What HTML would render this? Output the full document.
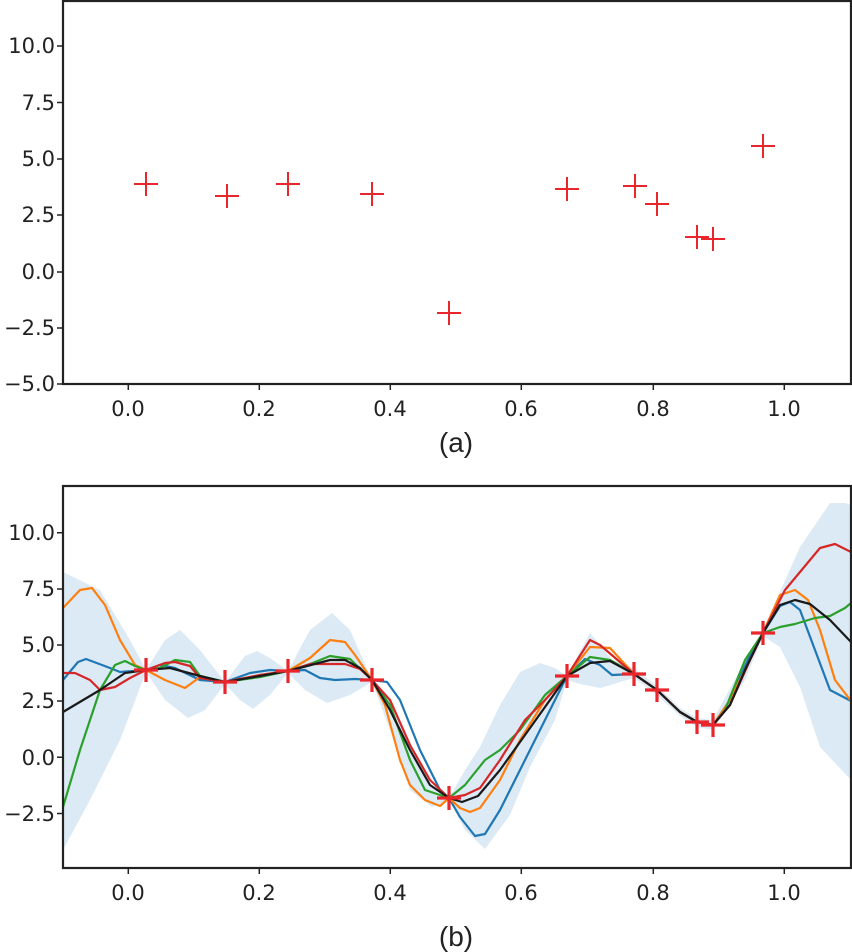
<!DOCTYPE html>
<html><head><meta charset="utf-8"><style>
body{margin:0;background:#fff}
svg{display:block}
text{font-family:"DejaVu Sans","Liberation Sans",sans-serif;fill:#222}
</style></head><body>
<svg width="852" height="952" viewBox="0 0 852 952" xmlns="http://www.w3.org/2000/svg">
<defs>
<g id="pl"><path d="M-12 0H12M0 -12V12" stroke="#e8262b" stroke-width="2"/></g>
<g id="pb"><path d="M-12 0H12M0 -12V12" stroke="#e8262b" stroke-width="3.2"/></g>
</defs>
<!-- TOP -->
<g font-size="21" text-anchor="end">
<text x="55" y="53">10.0</text><text x="55" y="110">7.5</text><text x="55" y="166">5.0</text><text x="55" y="222">2.5</text><text x="55" y="279">0.0</text><text x="55" y="335">−2.5</text><text x="55" y="391">−5.0</text>
</g>
<g stroke="#222" stroke-width="1.5">
<path d="M57 46H63M57 102.5H63M57 159H63M57 215H63M57 272H63M57 328H63M57 384H63"/>
<path d="M128.3 384V390M259.3 384V390M390.3 384V390M521.3 384V390M653.3 384V390M784.3 384V390"/>
</g>
<g font-size="21" text-anchor="middle">
<text x="128" y="416">0.0</text><text x="259" y="416">0.2</text><text x="390" y="416">0.4</text><text x="521" y="416">0.6</text><text x="653" y="416">0.8</text><text x="784" y="416">1.0</text>
</g>
<text x="456" y="452" font-size="28" text-anchor="middle" style="font-family:'Liberation Sans',sans-serif">(a)</text>
<g>
<use href="#pl" x="146" y="184"/><use href="#pl" x="227" y="196"/><use href="#pl" x="288" y="184"/><use href="#pl" x="372" y="194"/><use href="#pl" x="449" y="313"/><use href="#pl" x="567" y="189"/><use href="#pl" x="635" y="186"/><use href="#pl" x="657" y="204"/><use href="#pl" x="697" y="237"/><use href="#pl" x="713" y="239"/><use href="#pl" x="763" y="146"/>
</g>
<rect x="63" y="1" width="788" height="383" fill="none" stroke="#222" stroke-width="2.2"/>

<!-- BOTTOM -->
<path fill="#dceaf5" d="M63 572 L100 590 L130 640 L146 670 L165 640 L180 630 L200 650 L225 682 L245 656 L257 651 L270 658 L288 671 L310 630 L332 613 L350 630 L372 680 L390 700 L410 750 L430 785 L449 798 L465 770 L480 747 L500 705 L520 672 L540 663 L555 668 L567 676 L590 633 L612 660 L634 668 L657 686 L680 708 L697 718 L713 720 L740 670 L763 630 L775 603 L800 547 L830 503 L845 503 L851 505 L851 780 L820 747 L800 687 L780 647 L763 636 L745 680 L713 730 L697 727 L680 716 L657 695 L634 678 L600 688 L580 684 L567 680 L555 720 L530 767 L510 815 L485 849 L465 830 L449 800 L432 807 L410 790 L390 730 L372 682 L350 695 L327 703 L305 690 L288 673 L270 695 L253 709 L240 700 L225 684 L205 710 L188 718 L165 700 L146 672 L120 740 L90 800 L63 850 Z"/>
<g fill="none" stroke-width="2.2" stroke-linejoin="round">
<polyline stroke="#1f77b4" points="63,680 78,662 86,659 110,668 120,672 146,670 160,665 175,668 200,680 225,682 250,673 270,670 288,671 305,670 320,678 335,680 355,679 372,680 387,682 400,700 420,750 440,790 449,798 460,817 475,836 485,834 500,810 520,770 545,720 567,676 585,659 600,665 612,675 634,674 657,690 680,712 697,722 713,725 730,700 750,655 763,633 780,606 790,602 800,610 815,650 830,690 851,701"/>
<polyline stroke="#ff7f0e" points="63,608 80,590 92,588 105,605 120,640 135,665 146,670 165,680 175,684 185,688 200,677 225,682 260,675 288,671 310,658 330,640 345,642 355,655 372,680 385,705 400,760 410,785 425,800 440,806 449,798 460,808 470,812 480,808 500,780 520,740 545,700 567,676 590,647 610,648 634,674 657,690 680,712 697,722 713,725 730,700 750,660 763,633 780,595 795,590 808,600 820,630 835,680 851,701"/>
<polyline stroke="#2ca02c" points="63,807 80,750 100,690 115,665 125,661 135,666 146,670 160,668 175,660 190,662 200,676 225,682 260,677 288,671 310,664 330,656 350,659 372,680 390,705 410,760 425,790 449,798 465,785 485,760 500,750 520,730 545,695 567,676 590,657 610,660 634,674 657,690 680,712 697,722 713,725 725,710 745,660 763,633 780,627 795,624 815,618 830,616 845,608 851,603"/>
<polyline stroke="#d62728" points="63,673 75,673 90,680 100,690 115,687 130,678 146,670 165,663 175,662 190,666 200,678 225,682 260,675 288,671 310,664 325,664 345,664 360,669 372,680 390,700 410,745 430,780 449,798 465,795 480,788 500,760 525,720 545,700 567,676 590,640 600,645 634,674 657,690 680,712 697,722 713,725 730,705 750,660 763,633 785,590 800,572 820,548 835,544 851,552"/>
<polyline stroke="#1a1a1a" points="63,712 100,690 125,673 146,670 170,668 200,676 225,682 260,676 288,671 330,660 345,660 360,668 372,680 390,710 410,750 430,785 449,798 462,802 478,796 500,770 525,735 550,700 567,676 590,663 610,661 634,674 657,690 680,712 697,722 713,725 730,705 745,670 763,633 780,605 795,600 810,604 830,620 851,642"/>
</g>
<g>
<use href="#pb" x="146" y="670"/><use href="#pb" x="225" y="682"/><use href="#pb" x="288" y="671"/><use href="#pb" x="372" y="680"/><use href="#pb" x="449" y="798"/><use href="#pb" x="567" y="676"/><use href="#pb" x="634" y="674"/><use href="#pb" x="657" y="690"/><use href="#pb" x="697" y="722"/><use href="#pb" x="713" y="725"/><use href="#pb" x="763" y="633"/>
</g>
<g font-size="21" text-anchor="end">
<text x="55" y="540">10.0</text><text x="55" y="596">7.5</text><text x="55" y="652">5.0</text><text x="55" y="708">2.5</text><text x="55" y="765">0.0</text><text x="55" y="821">−2.5</text>
</g>
<g stroke="#222" stroke-width="1.5">
<path d="M57 532.7H63M57 589H63M57 645H63M57 701H63M57 757.3H63M57 813.5H63"/>
<path d="M128.3 868V874M259.3 868V874M390.3 868V874M521.3 868V874M653.3 868V874M784.3 868V874"/>
</g>
<g font-size="21" text-anchor="middle">
<text x="128" y="900">0.0</text><text x="259" y="900">0.2</text><text x="390" y="900">0.4</text><text x="521" y="900">0.6</text><text x="653" y="900">0.8</text><text x="784" y="900">1.0</text>
</g>
<text x="456" y="946" font-size="28" text-anchor="middle" style="font-family:'Liberation Sans',sans-serif">(b)</text>
<rect x="63" y="486" width="788" height="382" fill="none" stroke="#222" stroke-width="2.2"/>
</svg>
</body></html>
